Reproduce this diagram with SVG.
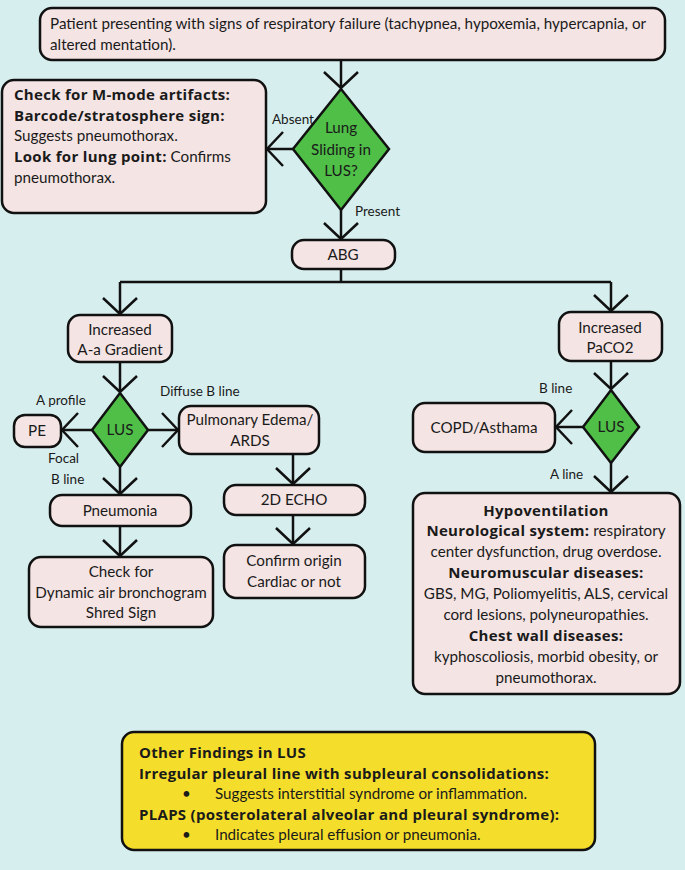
<svg xmlns="http://www.w3.org/2000/svg" width="685" height="870" viewBox="0 0 685 870">
<defs>
<marker id="ch" markerUnits="userSpaceOnUse" markerWidth="40" markerHeight="40" viewBox="-20 -20 40 40" refX="0" refY="0" orient="auto" overflow="visible">
<path d="M-16,-17 L0,0 L-16,17" fill="none" stroke="#111" stroke-width="2.5"/>
</marker>
<style>
text{font-family:Lato,"Open Sans",sans-serif;font-size:15.2px;fill:#1a1a1a}
.b{font-family:"Open Sans",Lato,sans-serif;font-weight:bold;font-size:15px;letter-spacing:0.3px}
.c{text-anchor:middle}
.s{font-size:13.5px}
.box{fill:#f4e4e3;stroke:#111;stroke-width:2.5}
.dia{fill:#4fbf47;stroke:#111;stroke-width:2.5}
.ln{fill:none;stroke:#111;stroke-width:2.5}
</style>
</defs>
<rect width="685" height="870" fill="#d7eeee"/>
<g id="connectors">
<path class="ln" d="M341,60 V88" marker-end="url(#ch)"/>
<path class="ln" d="M293,149 H267" marker-end="url(#ch)"/>
<path class="ln" d="M341,210 V239" marker-end="url(#ch)"/>
<path class="ln" d="M341,269 V282 M120,282 H611"/>
<path class="ln" d="M120,282 V314" marker-end="url(#ch)"/>
<path class="ln" d="M611,282 V311" marker-end="url(#ch)"/>
<path class="ln" d="M120,362 V392" marker-end="url(#ch)"/>
<path class="ln" d="M92,430 H62" marker-end="url(#ch)"/>
<path class="ln" d="M148,430 H178" marker-end="url(#ch)"/>
<path class="ln" d="M120,467 V494" marker-end="url(#ch)"/>
<path class="ln" d="M120,526 V556" marker-end="url(#ch)"/>
<path class="ln" d="M293,454 V484" marker-end="url(#ch)"/>
<path class="ln" d="M293,515 V544" marker-end="url(#ch)"/>
<path class="ln" d="M611,361 V389" marker-end="url(#ch)"/>
<path class="ln" d="M583,427 H556" marker-end="url(#ch)"/>
<path class="ln" d="M611,463 V492" marker-end="url(#ch)"/>
</g>
<text class="s" x="272" y="124">Absent</text>
<text class="s" x="355" y="216">Present</text>
<text class="s" x="36" y="405">A profile</text>
<text class="s" x="160" y="396">Diffuse B line</text>
<text class="s" x="48" y="463">Focal</text>
<text class="s" x="51" y="484">B line</text>
<text class="s" x="539" y="393">B line</text>
<text class="s" x="550" y="479">A line</text>
<g id="start"><rect class="box" x="40" y="8" width="625" height="52" rx="12"/>
<text x="50" y="29">Patient presenting with signs of respiratory failure (tachypnea, hypoxemia, hypercapnia, or</text>
<text x="50" y="50">altered mentation).</text></g>
<g id="lungsliding"><path class="dia" d="M341,89 L389,149 L341,210 L293,149 Z"/>
<text class="c" x="341" y="133">Lung</text><text class="c" x="341" y="155">Sliding in</text><text class="c" x="341" y="176">LUS?</text></g>
<g id="mmode"><rect class="box" x="2" y="80" width="264" height="133" rx="12"/>
<text class="b" x="14" y="100">Check for M-mode artifacts:</text>
<text class="b" x="14" y="121">Barcode/stratosphere sign:</text>
<text x="14" y="141">Suggests pneumothorax.</text>
<text x="14" y="162"><tspan class="b">Look for lung point:</tspan> Confirms</text>
<text x="14" y="183">pneumothorax.</text></g>
<g id="abg"><rect class="box" x="292" y="240" width="103" height="29" rx="12"/><text class="c" x="343" y="260">ABG</text></g>
<g id="aagrad"><rect class="box" x="68" y="315" width="104" height="47" rx="12"/>
<text class="c" x="120" y="335">Increased</text><text class="c" x="120" y="355">A-a Gradient</text></g>
<g id="lus1"><path class="dia" d="M120,393 L148,430 L120,467 L92,430 Z"/><text class="c" x="120" y="435">LUS</text></g>
<g id="pe"><rect class="box" x="14" y="415" width="47" height="32" rx="11"/><text class="c" x="37" y="436">PE</text></g>
<g id="edema"><rect class="box" x="179" y="406" width="140" height="48" rx="12"/>
<text class="c" x="250" y="425">Pulmonary Edema/</text><text class="c" x="250" y="446">ARDS</text></g>
<g id="pneumonia"><rect class="box" x="50" y="495" width="141" height="31" rx="12"/><text class="c" x="120" y="516">Pneumonia</text></g>
<g id="checkfor"><rect class="box" x="29" y="557" width="184" height="70" rx="12"/>
<text class="c" x="121" y="577">Check for</text><text class="c" x="121" y="598">Dynamic air bronchogram</text><text class="c" x="121" y="618">Shred Sign</text></g>
<g id="echo"><rect class="box" x="224" y="485" width="141" height="30" rx="12"/><text class="c" x="294" y="505">2D ECHO</text></g>
<g id="confirm"><rect class="box" x="224" y="545" width="141" height="53" rx="12"/>
<text class="c" x="294" y="566">Confirm origin</text><text class="c" x="294" y="587">Cardiac or not</text></g>
<g id="paco2"><rect class="box" x="559" y="312" width="103" height="49" rx="12"/>
<text class="c" x="610" y="333">Increased</text><text class="c" x="610" y="353">PaCO2</text></g>
<g id="lus2"><path class="dia" d="M611,390 L639,427 L611,463 L583,427 Z"/><text class="c" x="611" y="432">LUS</text></g>
<g id="copd"><rect class="box" x="413" y="403" width="142" height="49" rx="12"/><text class="c" x="484" y="433">COPD/Asthama</text></g>
<g id="hypo"><rect class="box" x="413" y="493" width="267" height="201" rx="12"/>
<text class="c b" x="546" y="516">Hypoventilation</text>
<text class="c" x="546" y="536"><tspan class="b">Neurological system:</tspan> respiratory</text>
<text class="c" x="546" y="557">center dysfunction, drug overdose.</text>
<text class="c b" x="546" y="578">Neuromuscular diseases:</text>
<text class="c" x="546" y="599">GBS, MG, Poliomyelitis, ALS, cervical</text>
<text class="c" x="546" y="620">cord lesions, polyneuropathies.</text>
<text class="c b" x="546" y="641">Chest wall diseases:</text>
<text class="c" x="546" y="662">kyphoscoliosis, morbid obesity, or</text>
<text class="c" x="546" y="683">pneumothorax.</text></g>
<g id="other"><rect x="122" y="732" width="473" height="118" rx="12" fill="#f5dd2b" stroke="#111" stroke-width="2.5"/>
<text class="b" x="139" y="758">Other Findings in LUS</text>
<text class="b" x="139" y="779">Irregular pleural line with subpleural consolidations:</text>
<text x="182" y="799">•</text><text x="215" y="799">Suggests interstitial syndrome or inflammation.</text>
<text class="b" x="139" y="820">PLAPS (posterolateral alveolar and pleural syndrome):</text>
<text x="182" y="840">•</text><text x="215" y="840">Indicates pleural effusion or pneumonia.</text></g>
</svg>
